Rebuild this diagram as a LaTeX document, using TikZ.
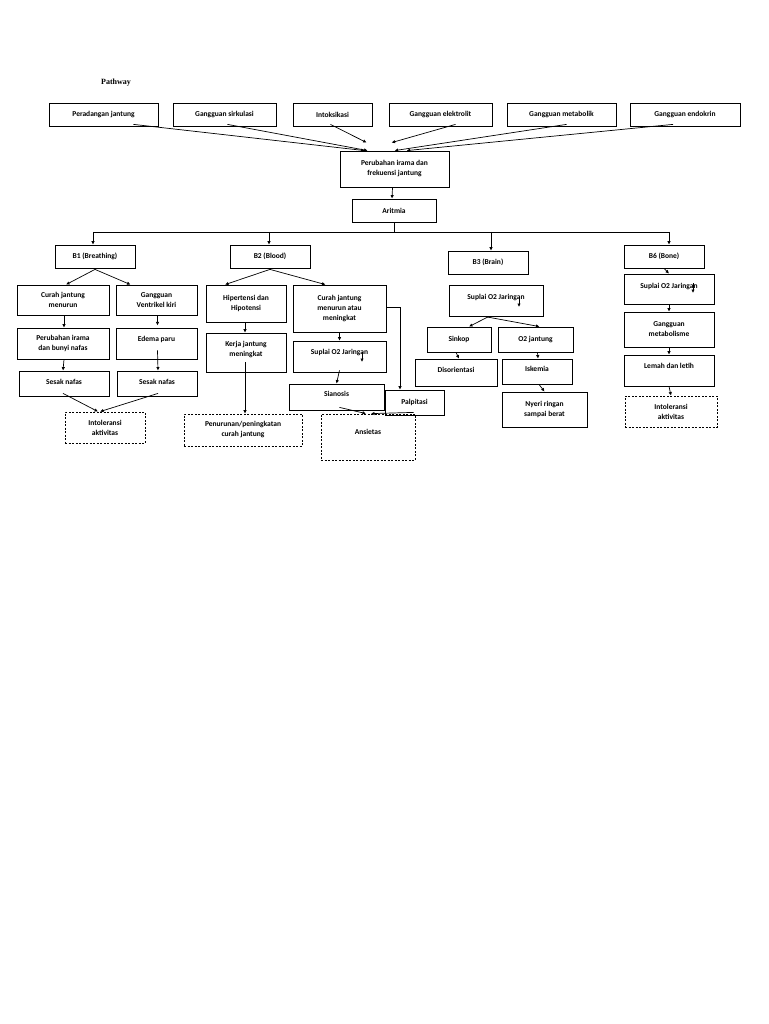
\documentclass[tikz,border=0pt]{standalone}
\usepackage{fontspec}
\setmainfont{Carlito}
\newfontfamily\serifb{Liberation Serif}
\usetikzlibrary{arrows.meta,calc}
\newcommand\bx[7][]{\node[box,#1,minimum width={(#4-#2)*1pt},minimum height={(#5-#3)*1pt}] (#7) at ({(#2+#4)/2},{(#3+#5)/2}) {#6};}
\begin{document}
\begin{tikzpicture}[x=1pt,y=-1pt,
 box/.style={draw,line width=0.8pt,inner sep=1pt,align=center,font=\fontsize{7.5}{10}\selectfont\bfseries},
 dbox/.style={dashed,dash pattern=on 2pt off 1.5pt},
 arr/.style={-{Latex[length=3.5pt,width=3.5pt]},line width=0.7pt},
 ln/.style={line width=0.7pt}]
\fill[white] (0,0) rectangle (768,1024);
\node[font=\serifb\fontsize{8}{9}\selectfont\bfseries] (title) at (116,83) {Pathway};
% top row
\bx{49}{103}{158}{126}{Peradangan jantung}{t1}
\bx{173}{103}{276}{126}{Gangguan sirkulasi}{t2}
\bx{293}{103}{372}{126}{Intoksikasi}{t3}
\bx{389}{103}{492}{126}{Gangguan elektrolit}{t4}
\bx{507}{103}{616}{126}{Gangguan metabolik}{t5}
\bx{630}{103}{740}{126}{Gangguan endokrin}{t6}
\bx{340}{151}{449}{187}{Perubahan irama dan\\frekuensi jantung}{pi}
\bx{352}{199}{436}{222}{Aritmia}{ar}
\draw[arr] ($(t1.south)+(30,-2)$) -- ($(pi.north west)+(25,0)$);
\draw[arr] ($(t2.south)+(3,-2)$) -- ($(pi.north west)+(28,0)$);
\draw[arr] ($(t3.south)+(-2,-2)$) -- ($(pi.north west)+(27,-8)$);
\draw[arr] ($(t4.south)+(15,-2)$) -- ($(pi.north west)+(52,-8)$);
\draw[arr] ($(t5.south)+(5,-2)$) -- ($(pi.north west)+(55,0)$);
\draw[arr] ($(t6.south)+(-12,-2)$) -- ($(pi.north west)+(67,0)$);
\draw[arr] ($(pi.south)+(-2,0)$) -- ($(ar.north)+(-2,0)$);
% B level
\bx{55}{245}{135}{268}{B1 (Breathing)}{b1}
\bx{230}{245}{310}{268}{B2 (Blood)}{b2}
\bx{448}{251}{528}{274}{B3 (Brain)}{b3}
\bx{624}{245}{704}{268}{B6 (Bone)}{b6}
\coordinate (bus) at (ar.south|-0,232);
\draw[ln] (ar.south) -- (bus);
\draw[ln] (93,232) -- (669,232);
\draw[arr] (93,232) -- (b1.north-|93,0);
\draw[arr] (269,232) -- (b2.north-|269,0);
\draw[arr] (491,232) -- (b3.north-|491,0);
\draw[arr] (669,232) -- (b6.north-|669,0);
% B1 branch
\bx{17}{285}{109}{315}{Curah jantung\\menurun}{c1}
\bx{116}{285}{197}{315}{Gangguan\\Ventrikel kiri}{g1}
\bx{17}{328}{109}{359}{Perubahan irama\\dan bunyi nafas}{p1}
\bx[text depth=9pt]{116}{328}{197}{359}{Edema paru}{e1}
\bx[text depth=4pt]{19}{371}{109}{396}{Sesak nafas}{s1}
\bx[text depth=4pt]{117}{371}{197}{396}{Sesak nafas}{s2}
\bx[dbox]{65}{412}{145}{443}{Intoleransi\\aktivitas}{i1}
\draw[arr] ($(b1.south)+(0,1)$) -- ($(c1.north)+(3,0)$);
\draw[arr] ($(b1.south)+(0,1)$) -- ($(g1.north)+(-26,0)$);
\draw[arr] ($(c1.south)+(1,0)$) -- ($(p1.north)+(1,0)$);
\draw[arr] ($(g1.south)+(1,0)$) -- ($(g1.south)+(1,10)$);
\draw[arr] ($(p1.south)+(1,0)$) -- ($(s1.north)+(-1,0)$);
\draw[arr] ($(e1.south)+(1,-9)$) -- ($(s2.north)+(1,0)$);
\draw[arr] ($(s1.south)+(-1,-3)$) -- ($(i1.north)+(-7,0)$);
\draw[arr] ($(s2.south)+(1,-3)$) -- ($(i1.north)+(-5,0)$);
% B2 branch
\bx{206}{285}{286}{322}{Hipertensi dan\\Hipotensi}{h2}
\bx{293}{285}{386}{332}{Curah jantung\\menurun atau\\meningkat}{c2}
\bx[text depth=8pt]{206}{333}{286}{372}{Kerja jantung\\meningkat}{k2}
\bx[text depth=9pt]{293}{341}{386}{372}{Suplai O2 Jaringan}{o2}
\bx[text depth=6pt]{289}{384}{384}{410}{Sianosis}{si}
\bx{385}{390}{444}{415}{Palpitasi}{pa}
\bx[dbox]{184}{414}{302}{446}{Penurunan/peningkatan\\curah jantung}{pn}
\bx[dbox,text depth=10pt]{321}{414}{415}{460}{Ansietas}{an}
\draw[arr] ($(b2.south)+(0,1)$) -- ($(h2.north)+(-21,0)$);
\draw[arr] ($(b2.south)+(0,1)$) -- ($(c2.north)+(-14,0)$);
\draw[arr] ($(h2.south)+(-1,0)$) -- ($(k2.north)+(-1,0)$);
\draw[arr] ($(c2.south)+(0,0)$) -- ($(o2.north)+(0,0)$);
\coordinate (pal) at (400,307);
\draw[ln] (c2.east|-pal) -- (pal);
\draw[arr] (pal) -- (pa.north-|pal);
\draw[arr] ($(o2.south)+(0,-2)$) -- ($(si.north)+(0,0)$);
\coordinate (oq) at (362,362);
\draw[arr] ($(oq)+(0,-10)$) -- (oq);
\draw[arr] ($(k2.south)+(-1,-10)$) -- ($(pn.north)+(2,0)$);
\draw[arr] ($(si.south)+(3,-3)$) -- ($(an.north)+(-2,0)$);
\draw[arr] ($(pa.south)+(-1,-3)$) -- ($(an.north)+(3,0)$);
% B3 branch
\bx[text depth=7pt]{449}{285}{543}{316}{Suplai O2 Jaringan}{o3}
\bx[text depth=2pt]{427}{327}{491}{352}{Sinkop}{sk}
\bx[text depth=2pt]{498}{327}{573}{352}{O2 jantung}{oj}
\bx[text depth=6pt]{415}{359}{497}{386}{Disorientasi}{ds}
\bx[text depth=5pt]{502}{359}{572}{384}{Iskemia}{is}
\bx{502}{392}{587}{427}{Nyeri ringan\\sampai berat}{ny}
\coordinate (oq3) at (519,307);
\draw[arr] ($(oq3)+(0,-10)$) -- (oq3);
\draw[arr] ($(o3.south)+(-7,0)$) -- ($(sk.north)+(10,0)$);
\draw[arr] ($(o3.south)+(-12,0)$) -- ($(oj.north)+(4,0)$);
\draw[arr] ($(sk.south)+(-3,0)$) -- ($(ds.north)+(3,0)$);
\draw[arr] ($(oj.south)+(2,0)$) -- ($(is.north)+(1,0)$);
\draw[arr] ($(is.south)+(2,0)$) -- ($(ny.north)+(0,0)$);
% B6 branch
\bx[text depth=7pt]{624}{274}{714}{304}{Suplai O2 Jaringan}{o6}
\bx{624}{312}{714}{347}{Gangguan\\metabolisme}{gm}
\bx[text depth=9pt]{624}{355}{714}{386}{Lemah dan letih}{lm}
\bx[dbox]{625}{396}{717}{427}{Intoleransi\\aktivitas}{i6}
\coordinate (oq6) at (693,293);
\draw[arr] ($(oq6)+(0,-10)$) -- (oq6);
\draw[arr] (b6.south) -- (o6.north);
\draw[arr] (o6.south) -- (gm.north);
\draw[arr] (gm.south) -- (lm.north);
\draw[arr] (lm.south) -- (i6.north);
\end{tikzpicture}
\end{document}
